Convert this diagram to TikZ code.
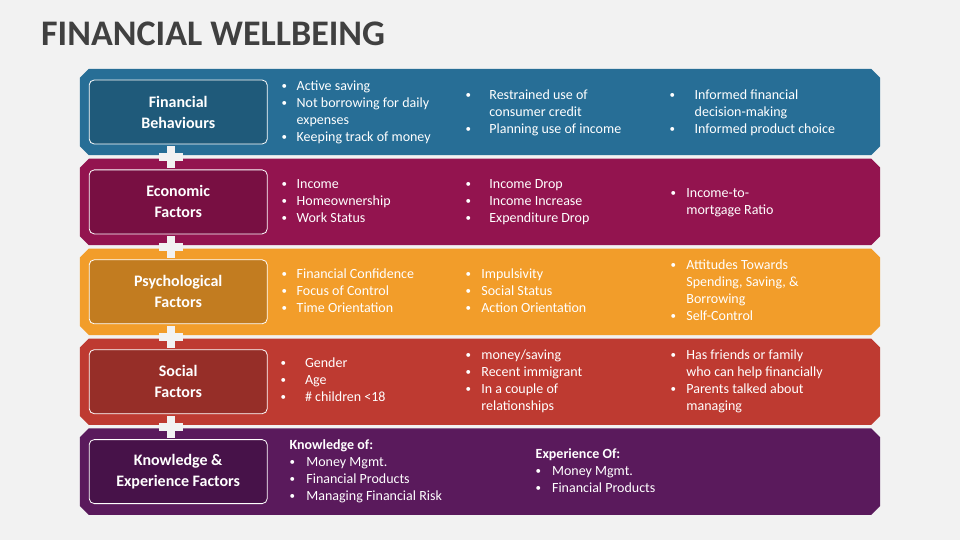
\documentclass[tikz,border=0pt]{standalone}
\usepackage{fontspec}
\setmainfont{Carlito}
\usetikzlibrary{positioning}
\definecolor{cBg}{HTML}{F2F2F2}
\definecolor{cTitle}{HTML}{404040}
\definecolor{cBlue}{HTML}{276E96}
\definecolor{cBlueD}{HTML}{1F5A7A}
\definecolor{cMagenta}{HTML}{93144F}
\definecolor{cMagentaD}{HTML}{780F42}
\definecolor{cOrange}{HTML}{F29D2A}
\definecolor{cOrangeD}{HTML}{C27C20}
\definecolor{cRed}{HTML}{BE3A31}
\definecolor{cRedD}{HTML}{962E28}
\definecolor{cPurple}{HTML}{5A1A5C}
\definecolor{cPurpleD}{HTML}{471249}
\newcommand{\blist}[2]{\begin{tabular}[t]{@{}l@{\hspace{#1}}l@{}}#2\end{tabular}}
\newcommand{\bu}{\raisebox{0.6pt}{\fontsize{11}{11}\selectfont\textbullet}}
\tikzset{
	band/.style ={rectangle, minimum width=800pt, minimum height=86pt, inner sep=0pt},
	lbl/.style  ={rectangle, rounded corners=5pt, draw=white, line width=0.8pt, minimum width=178pt, minimum height=64pt, align=center, text=white, inner sep=0pt, font=\fontsize{16}{21}\selectfont\bfseries},
	col/.style  ={anchor=base west, inner sep=0pt, text=white},
	plus/.style ={fill=cBg},
}
\begin{document}
\begin{tikzpicture}[x=1pt, y=-1pt, font=\fontsize{14}{17}\selectfont, node distance=3.5pt]
	\fill[cBg] (0,0) rectangle (960,540);
	\useasboundingbox (0,0) rectangle (960,540);
	\node[col, text=cTitle, font=\fontsize{36}{40}\selectfont\bfseries] (title) at (41,46) {FINANCIAL WELLBEING};
	% bands
	\node[band] (fb) at (480,112) {};
	\node[band, below=of fb] (ef) {};
	\node[band, below=of ef] (pf) {};
	\node[band, below=of pf] (sf) {};
	\node[band, below=of sf] (kf) {};
	\foreach \n/\c in {fb/cBlue, ef/cMagenta, pf/cOrange, sf/cRed, kf/cPurple}
		\fill[\c] ([xshift=9pt]\n.north west) -- ([xshift=-9pt]\n.north east) -- ([yshift=-9pt]\n.north east)
			-- ([yshift=9pt]\n.south east) -- ([xshift=-9pt]\n.south east) -- ([xshift=9pt]\n.south west)
			-- ([yshift=9pt]\n.south west) -- ([yshift=-9pt]\n.north west) -- cycle;
	% labels
	\node[lbl, fill=cBlueD, right=9pt of fb.west] (fbl) {Financial\\ Behaviours};
	\node[lbl, fill=cMagentaD, right=9pt of ef.west] (efl) {Economic\\ Factors};
	\node[lbl, fill=cOrangeD, right=9pt of pf.west] (pfl) {Psychological\\ Factors};
	\node[lbl, fill=cRedD, right=9pt of sf.west] (sfl) {Social\\ Factors};
	\node[lbl, fill=cPurpleD, right=9pt of kf.west] (kfl) {Knowledge \&\\ Experience Factors};
	% plus signs
	\foreach \a/\b in {fb/ef, ef/pf, pf/sf, sf/kf} {
		\path (\a.south) -- (\b.north) coordinate[pos=0.5] (m\b);
		\fill[plus] ([xshift=-321pt, yshift=-4pt]m\b) rectangle ([xshift=-297pt, yshift=4pt]m\b);
		\fill[plus] ([xshift=-313pt, yshift=-11pt]m\b) rectangle ([xshift=-305pt, yshift=11pt]m\b);
	}
	% financial behaviours
	\node[col] (fb1) at (281.5,90.5) {\blist{9.5pt}{\bu & Active saving\\ \bu & Not borrowing for daily\\ & expenses\\ \bu & Keeping track of money}};
	\node[col] (fb2) at (465.5,99.5) {\blist{18.2pt}{\bu & Restrained use of\\ & consumer credit\\ \bu & Planning use of income}};
	\node[col] (fb3) at (669.5,99.5) {\blist{19.5pt}{\bu & Informed financial\\ & decision-making\\ \bu & Informed product choice}};
	% economic factors
	\node[col] (ef1) at (281.5,188.5) {\blist{9.5pt}{\bu & Income\\ \bu & Homeownership\\ \bu & Work Status}};
	\node[col] (ef2) at (465.5,188.5) {\blist{18.2pt}{\bu & Income Drop\\ \bu & Income Increase\\ \bu & Expenditure Drop}};
	\node[col] (ef3) at (670.5,197.5) {\blist{10.2pt}{\bu & Income-to-\\ & mortgage Ratio}};
	% psychological factors
	\node[col] (pf1) at (281.5,278.5) {\blist{9.5pt}{\bu & Financial Confidence\\ \bu & Focus of Control\\ \bu & Time Orientation}};
	\node[col] (pf2) at (465.5,278.5) {\blist{10.2pt}{\bu & Impulsivity\\ \bu & Social Status\\ \bu & Action Orientation}};
	\node[col] (pf3) at (670.5,269.5) {\blist{10.2pt}{\bu & Attitudes Towards\\ & Spending, Saving, \&\\ & Borrowing\\ \bu & Self-Control}};
	% social factors
	\node[col] (sf1) at (280.5,367.5) {\blist{18.9pt}{\bu & Gender\\ \bu & Age\\ \bu & \# children <18}};
	\node[col] (sf2) at (465.5,359.5) {\blist{10.2pt}{\bu & money/saving\\ \bu & Recent immigrant\\ \bu & In a couple of\\ & relationships}};
	\node[col] (sf3) at (670.5,359.5) {\blist{10.2pt}{\bu & Has friends or family\\ & who can help financially\\ \bu & Parents talked about\\ & managing}};
	% knowledge and experience
	\node[col] (kf1) at (289.5,449.5) {\blist{11.2pt}{\multicolumn{2}{@{}l@{}}{\bfseries Knowledge of:}\\ \bu & Money Mgmt.\\ \bu & Financial Products\\ \bu & Managing Financial Risk}};
	\node[col] (kf2) at (535.5,458.5) {\blist{10.9pt}{\multicolumn{2}{@{}l@{}}{\bfseries Experience Of:}\\ \bu & Money Mgmt.\\ \bu & Financial Products}};
\end{tikzpicture}
\end{document}
